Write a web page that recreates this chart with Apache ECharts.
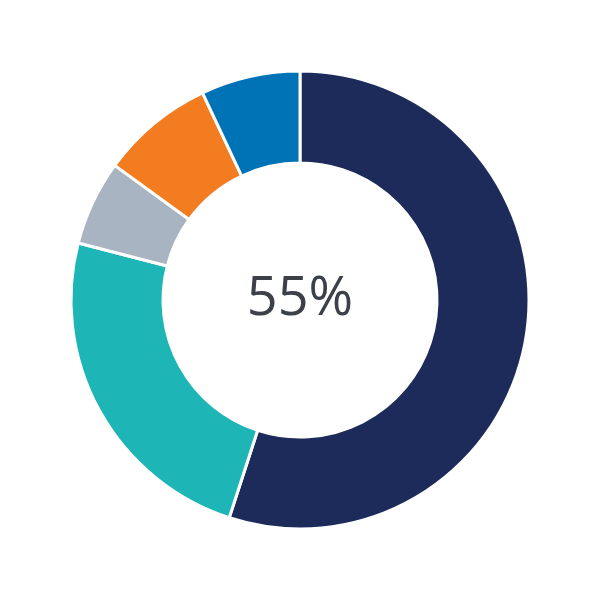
<!DOCTYPE html>
<html><head><meta charset="utf-8">
<script src="https://cdn.jsdelivr.net/npm/echarts@6/dist/echarts.min.js"></script>
<style>html,body{margin:0;padding:0;background:#fff}#c{width:600px;height:600px}</style>
</head><body><div id="c"></div>
<script>
const categories = ['A', 'B', 'C', 'D', 'E'];
const values = [55, 24, 6, 8, 7];
const colors = ['#1c2b5a', '#1db5b6', '#a9b4c2', '#f47c20', '#0073b6'];
const centerLabel = '55%';

const chart = echarts.init(document.getElementById('c'));
chart.setOption({
  animation: false,
  title: {
    text: centerLabel, left: 'center', top: 'middle',
    textStyle: { fontFamily: 'Open Sans', fontSize: 54, fontWeight: 'normal', color: '#3b4049' }
  },
  series: [{
    type: 'pie',
    center: [300, 300],
    radius: [137, 229],
    startAngle: 90,
    clockwise: true,
    label: { show: false },
    labelLine: { show: false },
    itemStyle: { borderColor: '#fff', borderWidth: 3 },
    data: categories.map((c, i) => ({ name: c, value: values[i], itemStyle: { color: colors[i] } }))
  }]
});
</script></body></html>
